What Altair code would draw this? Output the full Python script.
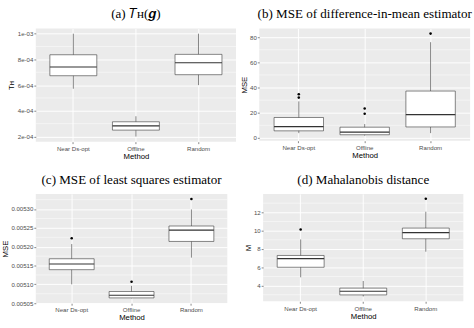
import altair as alt
import pandas as pd

methods = ["Near Ds-opt", "Offline", "Random"]

# (a) T_H(g)
a_lower = [5.72e-4, 2.0e-4, 6.0e-4]
a_q1 = [6.73e-4, 2.5e-4, 6.81e-4]
a_med = [7.41e-4, 2.83e-4, 7.74e-4]
a_q3 = [8.36e-4, 3.15e-4, 8.39e-4]
a_upper = [1.0e-3, 3.58e-4, 1.0e-3]
a_out_method = []
a_out_value = []
a_ticks = [2e-4, 4e-4, 6e-4, 8e-4, 1e-3]
a_minor = [3e-4, 5e-4, 7e-4, 9e-4]
a_domain = [1.6e-4, 1.04e-3]

# (b) MSE of difference-in-mean estimator
b_lower = [3.8, 1.8, 3.8]
b_q1 = [5.6, 2.5, 8.7]
b_med = [8.9, 4.6, 18.5]
b_q3 = [16.2, 8.5, 37.2]
b_upper = [29.0, 11.0, 76.0]
b_out_method = ["Near Ds-opt", "Near Ds-opt", "Offline", "Offline", "Random"]
b_out_value = [34.6, 32.0, 23.3, 19.2, 82.8]
b_ticks = [0, 20, 40, 60, 80]
b_minor = [10, 30, 50, 70]
b_domain = [-2.25, 86.85]

# (c) MSE of least squares estimator
c_lower = [0.005100, 0.005063, 0.005171]
c_q1 = [0.005139, 0.005064, 0.005214]
c_med = [0.005154, 0.005071, 0.005244]
c_q3 = [0.005168, 0.005081, 0.005255]
c_upper = [0.005207, 0.005096, 0.005299]
c_out_method = ["Near Ds-opt", "Offline", "Random"]
c_out_value = [0.0052225, 0.005107, 0.005327]
c_ticks = [0.00505, 0.00510, 0.00515, 0.00520, 0.00525, 0.00530]
c_minor = [0.005075, 0.005125, 0.005175, 0.005225, 0.005275, 0.005325]
c_domain = [0.0050498, 0.0053402]

# (d) Mahalanobis distance
d_lower = [4.9, 2.81, 7.7]
d_q1 = [6.0, 2.98, 9.11]
d_med = [6.95, 3.38, 9.78]
d_q3 = [7.29, 3.72, 10.28]
d_upper = [9.04, 4.5, 12.07]
d_out_method = ["Near Ds-opt", "Random"]
d_out_value = [10.12, 13.48]
d_ticks = [4, 6, 8, 10, 12]
d_minor = [3, 5, 7, 9, 11, 13]
d_domain = [2.28, 14.01]

DARK = "#333333"


def panel(title, ytitle, lower, q1, med, q3, upper, om, ov, ticks, minor, domain,
          label_expr, w, h):
    stats = pd.DataFrame({"Method": methods, "lower": lower, "q1": q1,
                          "med": med, "q3": q3, "upper": upper})
    outl = pd.DataFrame({"Method": om, "value": ov})
    mgrid = pd.DataFrame({"v": minor})

    xenc = alt.X("Method:N", sort=methods,
                 scale=alt.Scale(paddingInner=0, paddingOuter=0.1),
                 axis=alt.Axis(title="Method", labelAngle=0,
                               titleFontWeight="normal"))
    yscale = alt.Scale(domain=domain, nice=False, zero=False)
    yaxis = alt.Axis(title=ytitle, values=ticks, labelExpr=label_expr,
                     labelOverlap=False, titleFontWeight="normal")

    def Y(field):
        return alt.Y(field, scale=yscale, axis=yaxis)

    grid = alt.Chart(mgrid).mark_rule(color="white", strokeWidth=0.5).encode(
        y=Y("v:Q")
    )
    whisk = alt.Chart(stats).mark_rule(color=DARK, strokeWidth=0.6).encode(
        x=xenc, y=Y("lower:Q"), y2="upper:Q"
    )
    box = alt.Chart(stats).mark_bar(
        fill="white", stroke=DARK, strokeWidth=0.6,
        width=alt.RelativeBandSize(0.75)
    ).encode(x=xenc, y=Y("q1:Q"), y2="q3:Q")
    median = alt.Chart(stats).mark_bar(
        fill=DARK, stroke=DARK, strokeWidth=1.2,
        width=alt.RelativeBandSize(0.75)
    ).encode(x=xenc, y=Y("med:Q"), y2="med:Q")
    layers = [grid, whisk, box, median]
    if len(ov):
        pts = alt.Chart(outl).mark_circle(color="black", size=7, opacity=1).encode(
            x=xenc, y=Y("value:Q")
        )
        layers.append(pts)
    return alt.layer(*layers).properties(
        width=w, height=h,
        title=alt.TitleParams(title, font="Liberation Serif", fontSize=13.5,
                              fontWeight="normal", color="black", offset=8)
    )


pa = panel("(a) 𝑇ʜ(𝒈)", "Tʜ", a_lower, a_q1, a_med, a_q3, a_upper,
           a_out_method, a_out_value, a_ticks, a_minor, a_domain,
           "replace(format(datum.value, '.0e'), 'e-', 'e-0')", 207, 117)
pb = panel("(b) MSE of difference-in-mean estimator", "MSE", b_lower, b_q1, b_med,
           b_q3, b_upper, b_out_method, b_out_value, b_ticks, b_minor, b_domain,
           "format(datum.value, 'd')", 218, 116)
pc = panel("(c) MSE of least squares estimator", "MSE", c_lower, c_q1, c_med,
           c_q3, c_upper, c_out_method, c_out_value, c_ticks, c_minor, c_domain,
           "format(datum.value, '.5f')", 198, 113)
pd_ = panel("(d) Mahalanobis distance", "M", d_lower, d_q1, d_med, d_q3, d_upper,
            d_out_method, d_out_value, d_ticks, d_minor, d_domain,
            "format(datum.value, 'd')", 207, 111)

chart = alt.vconcat(
    alt.hconcat(pa, pb, spacing=3),
    alt.hconcat(pc, pd_, spacing=16),
    spacing=12,
).properties(
    padding={"left": 1, "top": 2, "right": 2, "bottom": -3},
    background="white",
).configure_view(
    fill="#EBEBEB", strokeWidth=0
).configure_axis(
    grid=True, gridColor="white", gridWidth=1,
    domain=False, tickColor=DARK, tickSize=2, tickWidth=0.6,
    labelFont="Liberation Sans", labelFontSize=6.3, labelColor="#4D4D4D",
    labelPadding=1, labelOverlap=False,
    titleFont="Liberation Sans", titleFontSize=8, titleColor="black",
    titleFontWeight="normal", titlePadding=1.5,
).configure_axisX(
    labelPadding=2, titlePadding=1
).configure_title(
    anchor="middle"
)

chart.save("out.html", embed_options={"renderer": "svg", "actions": False})
